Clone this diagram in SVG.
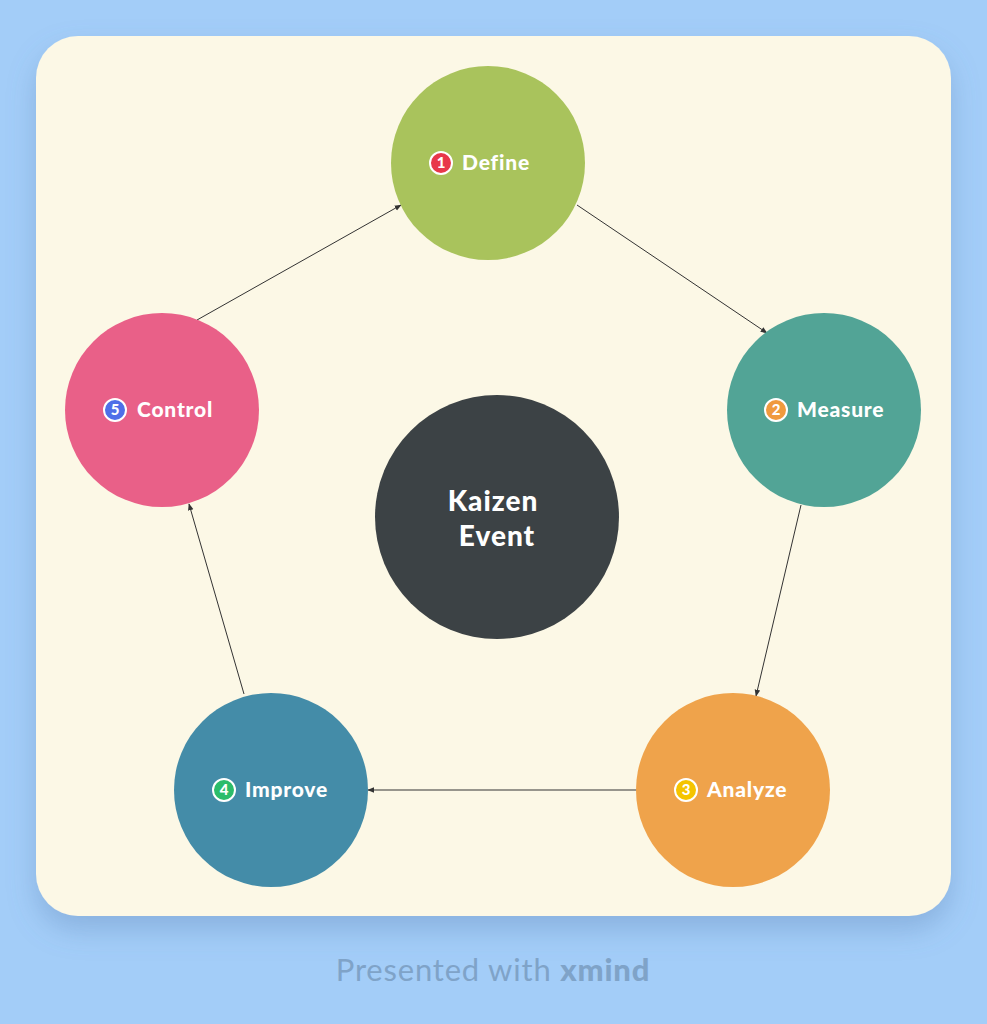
<svg xmlns="http://www.w3.org/2000/svg" width="987" height="1024" viewBox="0 0 987 1024">
<defs>
<marker id="ah" viewBox="0 0 10 10" refX="9" refY="5" markerWidth="7" markerHeight="7" orient="auto"><path d="M0,1 L10,5 L0,9 z" fill="#333"/></marker>
<filter id="sh" x="-10%" y="-10%" width="120%" height="130%"><feDropShadow dx="0" dy="14" stdDeviation="14" flood-color="#5a7fb0" flood-opacity="0.35"/></filter>
</defs>
<style>
.lbl{font-family:Lato,"Liberation Sans",sans-serif;font-weight:900;font-size:21px;letter-spacing:0.8px;fill:#fff}
.num{font-family:Lato,"Liberation Sans",sans-serif;font-weight:900;font-size:15px;fill:#fff;text-anchor:middle}
.badge{stroke:#fff;stroke-width:2}
.con{stroke:#333;stroke-width:1;fill:none;marker-end:url(#ah)}
</style>
<rect width="987" height="1024" fill="#a3cdf8"/>
<rect x="36" y="36" width="915" height="880" rx="42" fill="#fcf8e6" filter="url(#sh)"/>
<g id="connectors">
<line class="con" x1="577" y1="205" x2="767" y2="333"/>
<line class="con" x1="801" y1="505" x2="756" y2="696"/>
<line class="con" x1="637" y1="790" x2="368" y2="790"/>
<line class="con" x1="244" y1="694" x2="189" y2="504"/>
<line class="con" x1="197" y1="320" x2="401" y2="205"/>
</g>
<g id="center"><circle cx="497" cy="517" r="122" fill="#3c4245"/>
<text x="493" y="511" text-anchor="middle" font-family="Lato,'Liberation Sans',sans-serif" font-weight="900" font-size="28" letter-spacing="1" fill="#fff">Kaizen</text>
<text x="497" y="546" text-anchor="middle" font-family="Lato,'Liberation Sans',sans-serif" font-weight="900" font-size="28" letter-spacing="1" fill="#fff">Event</text></g>
<g id="define"><circle cx="488" cy="163" r="97" fill="#a9c35c"/>
<circle class="badge" cx="441" cy="163" r="11" fill="#e8374a"/><text class="num" x="441" y="168">1</text>
<text class="lbl" x="462" y="170">Define</text></g>
<g id="measure"><circle cx="824" cy="410" r="97" fill="#52a496"/>
<circle class="badge" cx="776" cy="410" r="11" fill="#f09a3e"/><text class="num" x="776" y="415">2</text>
<text class="lbl" x="797" y="417">Measure</text></g>
<g id="analyze"><circle cx="733" cy="790" r="97" fill="#efa34b"/>
<circle class="badge" cx="686" cy="790" r="11" fill="#f5c400"/><text class="num" x="686" y="795">3</text>
<text class="lbl" x="707" y="797">Analyze</text></g>
<g id="improve"><circle cx="271" cy="790" r="97" fill="#448ca8"/>
<circle class="badge" cx="224" cy="790" r="11" fill="#2cbc6a"/><text class="num" x="224" y="795">4</text>
<text class="lbl" x="245" y="797">Improve</text></g>
<g id="control"><circle cx="162" cy="410" r="97" fill="#e96088"/>
<circle class="badge" cx="115" cy="410" r="11" fill="#4f6fe8"/><text class="num" x="115" y="415">5</text>
<text class="lbl" x="137" y="417">Control</text></g>
<text x="493" y="981" text-anchor="middle" font-family="Lato,'Liberation Sans',sans-serif" font-size="31" letter-spacing="0.8" fill="#7fa3c8">Presented with <tspan font-weight="900">xmind</tspan></text>
</svg>
